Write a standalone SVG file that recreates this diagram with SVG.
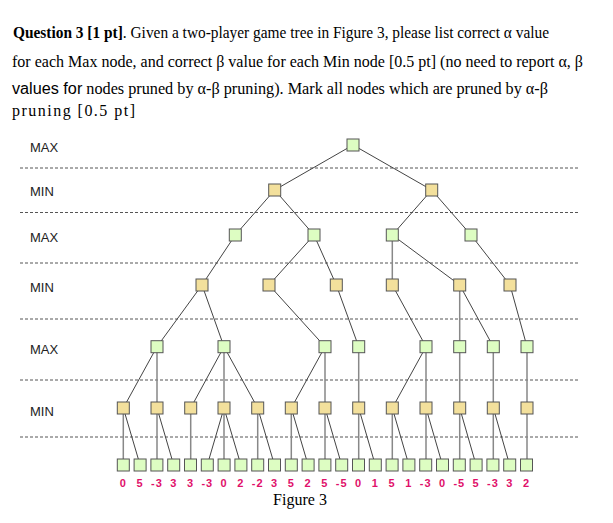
<svg xmlns="http://www.w3.org/2000/svg" width="613" height="523" viewBox="0 0 613 523">
<style>
.t{font-family:"Liberation Serif",serif;font-size:16px;fill:#000}
.s{font-family:"Liberation Sans",sans-serif}
.lv{font-family:"Liberation Sans",sans-serif;font-size:13px;fill:#222}
.d{stroke:#555;stroke-width:1;stroke-dasharray:3,2}
.e{stroke:#444;stroke-width:1;fill:none}
.v{stroke:#888;stroke-width:1.5;fill:none}
.mx{fill:#ddfdc2;stroke:#555;stroke-width:1}
.mn{fill:#f3e09c;stroke:#555;stroke-width:1}
.lb{font-family:"Liberation Sans",sans-serif;font-size:11px;font-weight:bold;fill:#e0106a;text-anchor:middle;letter-spacing:1px}
</style>
<rect width="613" height="523" fill="#fff"/>
<g id="title">
<text class="t" x="13" y="38" textLength="536" lengthAdjust="spacingAndGlyphs"><tspan font-weight="bold">Question 3 [1 pt]</tspan>. Given a two-player game tree in Figure 3, please list correct α value</text>
<text class="t" x="12" y="67" textLength="571" lengthAdjust="spacingAndGlyphs">for each Max node, and correct β value for each Min node [0.5 pt] (no need to report α, β</text>
<text class="t" x="12" y="94" textLength="536" lengthAdjust="spacingAndGlyphs"><tspan class="s">values for</tspan> nodes pruned by α-β pruning). Mark all nodes which are pruned by α-β</text>
<text class="t" x="12" y="116" textLength="123" lengthAdjust="spacing">pruning [0.5 pt]</text>
</g>
<g id="levels">
<line class="d" x1="20" y1="168" x2="580" y2="168"/>
<line class="d" x1="20" y1="212.5" x2="580" y2="212.5"/>
<line class="d" x1="20" y1="263" x2="580" y2="263"/>
<line class="d" x1="20" y1="319" x2="580" y2="319"/>
<line class="d" x1="20" y1="380" x2="580" y2="380"/>
<line class="d" x1="20" y1="437" x2="580" y2="437"/>
<text class="lv" x="30" y="152">MAX</text>
<text class="lv" x="30" y="196">MIN</text>
<text class="lv" x="30" y="242">MAX</text>
<text class="lv" x="30" y="292">MIN</text>
<text class="lv" x="30" y="354">MAX</text>
<text class="lv" x="30" y="416">MIN</text>
</g>
<g id="connectors">
<path class="e" d="M353 145L274.7 190M353 145L431.7 190M274.7 190L235.3 235M274.7 190L314 235M431.7 190L392.3 235M431.7 190L471 235M235.3 235L202 285M314 235L269 285M314 235L336.3 285M392.3 235L459.7 285M471 235L510 285"/>
<path class="v" d="M392.3 235V285"/>
<path class="e" d="M202 285L157 346.7M202 285L224 346.7M269 285L325 346.7M336.3 285L358.7 346.7M392.3 285L426 346.7M459.7 285L493.3 346.7M510 285L527 346.7"/>
<path class="v" d="M459.7 285V346.7"/>
<path class="e" d="M157 346.7L123.3 408M224 346.7L190.7 408M224 346.7L257.7 408M325 346.7L291.3 408M426 346.7L392.3 408"/>
<path class="v" d="M157 346.7V408M224 346.7V408M325 346.7V408M358.7 346.7V408M426 346.7V408M459.7 346.7V408M493.3 346.7V408M527 346.7V408"/>
<path class="e" d="M123.3 408L140.1 465M157 408L173.7 465M224 408L207.3 465M224 408L240.9 465M257.7 408L274.5 465M291.3 408L308.1 465M325 408L341.7 465M358.7 408L375.3 465M392.3 408L408.9 465M426 408L442.5 465M459.7 408L476.1 465M493.3 408L509.7 465"/>
<path class="v" d="M123.3 408V465M157 408V465M190.7 408V465M224 408V465M257.7 408V465M291.3 408V465M325 408V465M358.7 408V465M392.3 408V465M426 408V465M459.7 408V465M493.3 408V465M527 408V465"/>
</g>
<g id="n-root"><rect class="mx" x="347" y="139" width="12" height="12"/></g>
<g id="n-min1"><rect class="mn" x="268.7" y="184" width="12" height="12"/><rect class="mn" x="425.7" y="184" width="12" height="12"/></g>
<g id="n-max2"><rect class="mx" x="229.3" y="229" width="12" height="12"/><rect class="mx" x="308" y="229" width="12" height="12"/><rect class="mx" x="386.3" y="229" width="12" height="12"/><rect class="mx" x="465" y="229" width="12" height="12"/></g>
<g id="n-min3"><rect class="mn" x="196" y="279" width="12" height="12"/><rect class="mn" x="263" y="279" width="12" height="12"/><rect class="mn" x="330.3" y="279" width="12" height="12"/><rect class="mn" x="386.3" y="279" width="12" height="12"/><rect class="mn" x="453.7" y="279" width="12" height="12"/><rect class="mn" x="504" y="279" width="12" height="12"/></g>
<g id="n-max4"><rect class="mx" x="151" y="340.7" width="12" height="12"/><rect class="mx" x="218" y="340.7" width="12" height="12"/><rect class="mx" x="319" y="340.7" width="12" height="12"/><rect class="mx" x="352.7" y="340.7" width="12" height="12"/><rect class="mx" x="420" y="340.7" width="12" height="12"/><rect class="mx" x="453.7" y="340.7" width="12" height="12"/><rect class="mx" x="487.3" y="340.7" width="12" height="12"/><rect class="mx" x="521" y="340.7" width="12" height="12"/></g>
<g id="n-min5"><rect class="mn" x="117.3" y="402" width="12" height="12"/><rect class="mn" x="151" y="402" width="12" height="12"/><rect class="mn" x="184.7" y="402" width="12" height="12"/><rect class="mn" x="218" y="402" width="12" height="12"/><rect class="mn" x="251.7" y="402" width="12" height="12"/><rect class="mn" x="285.3" y="402" width="12" height="12"/><rect class="mn" x="319" y="402" width="12" height="12"/><rect class="mn" x="352.7" y="402" width="12" height="12"/><rect class="mn" x="386.3" y="402" width="12" height="12"/><rect class="mn" x="420" y="402" width="12" height="12"/><rect class="mn" x="453.7" y="402" width="12" height="12"/><rect class="mn" x="487.3" y="402" width="12" height="12"/><rect class="mn" x="521" y="402" width="12" height="12"/></g>
<g id="n-leaves">
<rect class="mx" x="117.3" y="459" width="12" height="12"/><rect class="mx" x="134.1" y="459" width="12" height="12"/><rect class="mx" x="150.9" y="459" width="12" height="12"/><rect class="mx" x="167.7" y="459" width="12" height="12"/><rect class="mx" x="184.5" y="459" width="12" height="12"/><rect class="mx" x="201.3" y="459" width="12" height="12"/><rect class="mx" x="218.1" y="459" width="12" height="12"/><rect class="mx" x="234.9" y="459" width="12" height="12"/><rect class="mx" x="251.7" y="459" width="12" height="12"/><rect class="mx" x="268.5" y="459" width="12" height="12"/><rect class="mx" x="285.3" y="459" width="12" height="12"/><rect class="mx" x="302.1" y="459" width="12" height="12"/><rect class="mx" x="318.9" y="459" width="12" height="12"/><rect class="mx" x="335.7" y="459" width="12" height="12"/><rect class="mx" x="352.5" y="459" width="12" height="12"/><rect class="mx" x="369.3" y="459" width="12" height="12"/><rect class="mx" x="386.1" y="459" width="12" height="12"/><rect class="mx" x="402.9" y="459" width="12" height="12"/><rect class="mx" x="419.7" y="459" width="12" height="12"/><rect class="mx" x="436.5" y="459" width="12" height="12"/><rect class="mx" x="453.3" y="459" width="12" height="12"/><rect class="mx" x="470.1" y="459" width="12" height="12"/><rect class="mx" x="486.9" y="459" width="12" height="12"/><rect class="mx" x="503.7" y="459" width="12" height="12"/><rect class="mx" x="520.5" y="459" width="12" height="12"/>
</g>
<g id="values">
<text class="lb" x="123.3" y="487">0</text><text class="lb" x="140.1" y="487">5</text><text class="lb" x="156.9" y="487">-3</text><text class="lb" x="173.7" y="487">3</text><text class="lb" x="190.5" y="487">3</text><text class="lb" x="207.3" y="487">-3</text><text class="lb" x="224.1" y="487">0</text><text class="lb" x="240.9" y="487">2</text><text class="lb" x="257.7" y="487">-2</text><text class="lb" x="274.5" y="487">3</text><text class="lb" x="291.3" y="487">5</text><text class="lb" x="308.1" y="487">2</text><text class="lb" x="324.9" y="487">5</text><text class="lb" x="341.7" y="487">-5</text><text class="lb" x="358.5" y="487">0</text><text class="lb" x="375.3" y="487">1</text><text class="lb" x="392.1" y="487">5</text><text class="lb" x="408.9" y="487">1</text><text class="lb" x="425.7" y="487">-3</text><text class="lb" x="442.5" y="487">0</text><text class="lb" x="459.3" y="487">-5</text><text class="lb" x="476.1" y="487">5</text><text class="lb" x="492.9" y="487">-3</text><text class="lb" x="509.7" y="487">3</text><text class="lb" x="526.5" y="487">2</text>
</g>
<text class="t" x="300" y="505" text-anchor="middle">Figure 3</text>
</svg>
